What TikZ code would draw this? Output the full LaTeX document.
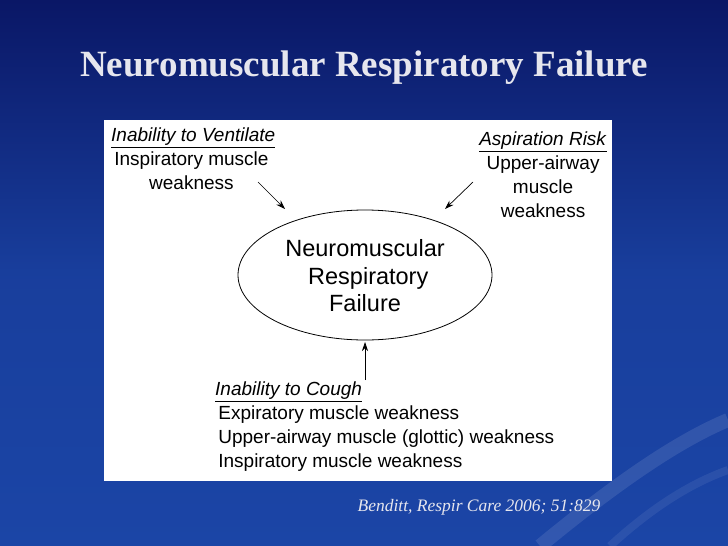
\documentclass[tikz,border=0pt]{standalone}
\usepackage{fontspec}
\setmainfont{Liberation Serif}
\setsansfont{Liberation Sans}
\usetikzlibrary{arrows.meta,shapes.geometric}
\definecolor{bgtop}{HTML}{0A1766}
\definecolor{bgbot}{HTML}{1B45A6}
\definecolor{titlec}{HTML}{E6E6EE}
\tikzset{
 lab/.style={font=\sffamily\fontsize{19}{24}\selectfont, align=center, inner sep=0pt},
 arr/.style={-{Stealth[length=9pt,width=6pt]}, line width=0.7pt}
}
\begin{document}
\begin{tikzpicture}[x=1pt,y=-1pt]
\useasboundingbox (0,0) rectangle (728,546);
\shade[top color=bgtop, bottom color=bgbot, middle color=bgbot!85!bgtop] (0,0) rectangle (728,546);
\draw[white, opacity=0.10, line width=14pt] (540,546) .. controls (620,480) and (680,440) .. (728,420);
\draw[white, opacity=0.07, line width=8pt] (610,546) .. controls (660,500) and (700,480) .. (728,470);
\node[font=\bfseries\fontsize{37}{42}\selectfont, text=titlec] (title) at (364,68) {Neuromuscular Respiratory Failure};
\fill[white] (104,120) rectangle (612,481);
\node[draw, line width=0.8pt, ellipse, minimum width=254pt, minimum height=130pt] (ell) at (365,275) {};
\node[lab, font=\sffamily\fontsize{23.5}{27.5}\selectfont] (center) at (365,276) {Neuromuscular\\ \ Respiratory\\ Failure};
\node[lab, anchor=north west, align=left] (tl) at (111,128) {\underline{\textit{Inability to Ventilate}}\\ \,Inspiratory muscle\\ \hspace{38pt}weakness};
\node[lab, anchor=north east] (tr) at (607,132) {\underline{\textit{Aspiration Risk}}\\ Upper-airway\\ muscle\\ weakness};
\node[lab, anchor=north west, align=left] (bt) at (215,382) {\underline{\textit{Inability to Cough}}\\ \,Expiratory muscle weakness\\ \,Upper-airway muscle (glottic) weakness\\ \,Inspiratory muscle weakness};
\coordinate (a1) at (258,182); \coordinate (a1e) at (285,209);
\coordinate (a2) at (473,182); \coordinate (a2e) at (445,209);
\coordinate (a3) at (365,380); \coordinate (a3e) at (365,342);
\draw[arr] (a1) -- (a1e);
\draw[arr] (a2) -- (a2e);
\draw[arr] (a3) -- (a3e);
\node[font=\itshape\fontsize{17.5}{20}\selectfont, text=titlec] (cite) at (479,507) {Benditt, Respir Care 2006; 51:829};
\end{tikzpicture}
\end{document}
